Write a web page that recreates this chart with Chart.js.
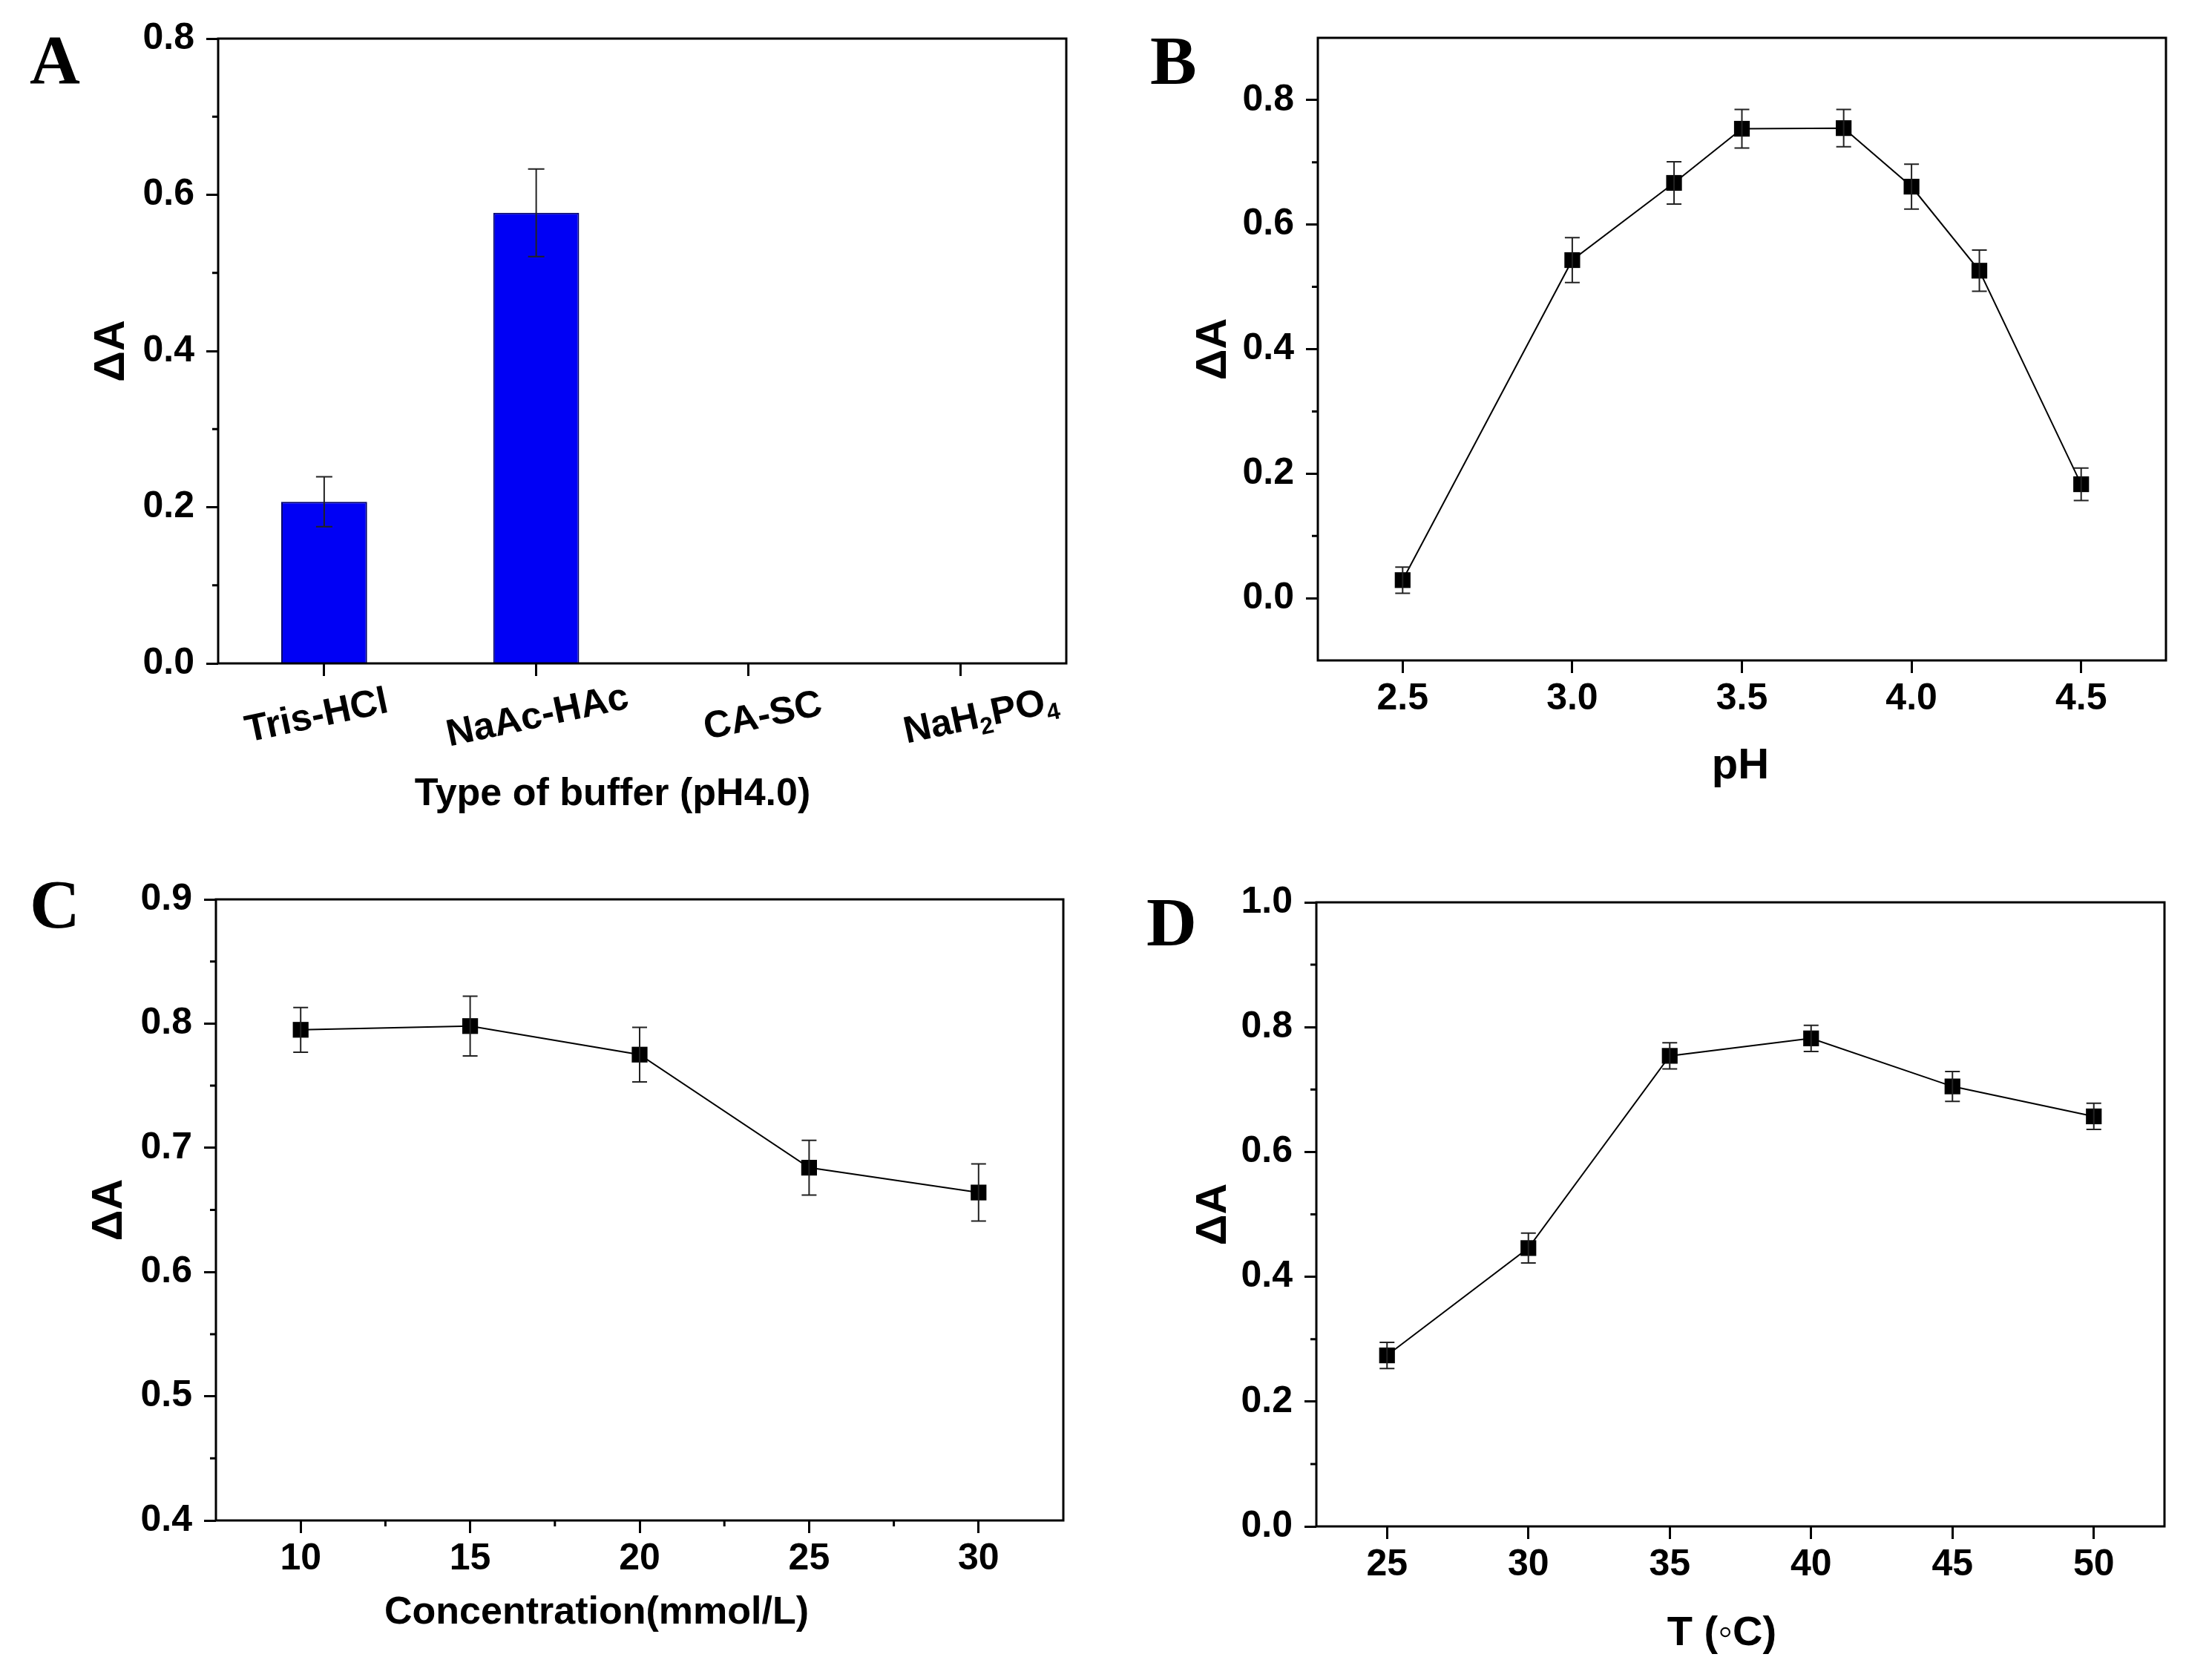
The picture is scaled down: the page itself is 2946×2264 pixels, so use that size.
<!DOCTYPE html>
<html>
<head>
<meta charset="utf-8">
<script src="https://cdn.jsdelivr.net/npm/chart.js@4.4.1/dist/chart.umd.min.js"></script>
<style>
  html, body { margin: 0; padding: 0; background: #fff; }
  #wrap { position: relative; width: 2946px; height: 2264px; }
  .panel { position: absolute; width: 1473px; height: 1132px; }
  .panel canvas { display: block; }
</style>
</head>
<body>
<div id="wrap">
  <div class="panel" style="left:0;top:0"><canvas id="cA" width="1473" height="1132"></canvas></div>
  <div class="panel" style="left:1473px;top:0"><canvas id="cB" width="1473" height="1132"></canvas></div>
  <div class="panel" style="left:0;top:1132px"><canvas id="cC" width="1473" height="1132"></canvas></div>
  <div class="panel" style="left:1473px;top:1132px"><canvas id="cD" width="1473" height="1132"></canvas></div>
</div>
<script>
// A — type of buffer
const bufferLabels = ['Tris-HCl', 'NaAc-HAc', 'CA-SC', 'NaH2PO4'];
const bufferValues = [0.207, 0.577, 0, 0];
const bufferErrors = [0.032, 0.056, 0, 0];
const bufferYTicks = [0, 0.2, 0.4, 0.6, 0.8];

// B — pH
const phValues = [2.5, 3.0, 3.3, 3.5, 3.8, 4.0, 4.2, 4.5];
const phDeltaA = [0.029, 0.543, 0.667, 0.754, 0.755, 0.661, 0.526, 0.183];
const phErrors = [0.021, 0.036, 0.034, 0.031, 0.030, 0.036, 0.033, 0.026];
const phXTicks = [2.5, 3.0, 3.5, 4.0, 4.5];
const phYTicks = [0, 0.2, 0.4, 0.6, 0.8];

// C — concentration
const concValues = [10, 15, 20, 25, 30];
const concDeltaA = [0.795, 0.798, 0.775, 0.684, 0.664];
const concErrors = [0.018, 0.024, 0.022, 0.022, 0.023];
const concXTicks = [10, 15, 20, 25, 30];
const concYTicks = [0.4, 0.5, 0.6, 0.7, 0.8, 0.9];

// D — temperature
const tempValues = [25, 30, 35, 40, 45, 50];
const tempDeltaA = [0.274, 0.446, 0.754, 0.782, 0.705, 0.657];
const tempErrors = [0.021, 0.024, 0.021, 0.021, 0.024, 0.021];
const tempXTicks = [25, 30, 35, 40, 45, 50];
const tempYTicks = [0, 0.2, 0.4, 0.6, 0.8, 1.0];

const SANS = '"Liberation Sans", Arial, sans-serif';
const SERIF = '"Liberation Serif", "Times New Roman", serif';
const FONT = { family: SANS, size: 50, weight: 'bold' };
const YTITLE_FONT = { family: SANS, size: 58, weight: 'bold' };

// box round the plot area
const frame = {
  id: 'frame',
  afterDraw(chart) {
    const { ctx, chartArea: a } = chart;
    ctx.save();
    ctx.strokeStyle = '#000';
    ctx.lineWidth = 3;
    ctx.strokeRect(a.left, a.top, a.right - a.left, a.bottom - a.top);
    ctx.restore();
  },
};

const minorTicks = {
  id: 'minorTicks',
  afterDraw(chart, args, opts) {
    const { ctx, chartArea: a, scales } = chart;
    ctx.save();
    ctx.strokeStyle = '#000';
    ctx.lineWidth = 3;
    ctx.beginPath();
    (opts.y || []).forEach(v => {
      const p = scales.y.getPixelForValue(v);
      ctx.moveTo(a.left - 8, p);
      ctx.lineTo(a.left, p);
    });
    (opts.x || []).forEach(v => {
      const p = scales.x.getPixelForValue(v);
      ctx.moveTo(p, a.bottom);
      ctx.lineTo(p, a.bottom + 8);
    });
    ctx.stroke();
    ctx.restore();
  },
};

const errorBars = {
  id: 'errorBars',
  afterDatasetsDraw(chart, args, opts) {
    const { ctx, scales } = chart;
    chart.data.datasets.forEach((ds, i) => {
      if (!ds.errors) return;
      const meta = chart.getDatasetMeta(i);
      ctx.save();
      ctx.strokeStyle = opts.color || '#000';
      ctx.lineWidth = opts.width || 2;
      meta.data.forEach((el, j) => {
        const err = ds.errors[j];
        if (!err) return;
        const v = ds.data[j].y ?? ds.data[j];
        const top = scales.y.getPixelForValue(v + err);
        const bot = scales.y.getPixelForValue(v - err);
        const cap = opts.cap || 10;
        ctx.beginPath();
        ctx.moveTo(el.x, top); ctx.lineTo(el.x, bot);
        ctx.moveTo(el.x - cap, top); ctx.lineTo(el.x + cap, top);
        ctx.moveTo(el.x - cap, bot); ctx.lineTo(el.x + cap, bot);
        ctx.stroke();
      });
      ctx.restore();
    });
  },
};

// panel letter + x axis title (title sits a bit off-centre in the original)
const panelText = {
  id: 'panelText',
  afterDraw(chart, args, o) {
    const { ctx, chartArea: a } = chart;
    ctx.save();
    ctx.fillStyle = '#000';
    ctx.font = `bold 94px ${SERIF}`;
    ctx.textAlign = 'left';
    ctx.textBaseline = 'alphabetic';
    ctx.fillText(o.letter, o.letterX, o.letterY);
    ctx.font = `bold ${o.xTitleSize || 52}px ${SANS}`;
    ctx.textAlign = 'center';
    ctx.textBaseline = 'middle';
    ctx.fillText(o.xTitle, (a.left + a.right) / 2 + o.xTitleDx, o.xTitleY);
    ctx.restore();
  },
};

// digits after letters become subscripts (NaH2PO4)
function drawChem(ctx, text, size) {
  const parts = text.split(/(\d)/);
  const big = `bold ${size}px ${SANS}`;
  const small = `bold ${Math.round(size * 0.62)}px ${SANS}`;
  let total = 0;
  parts.forEach((p, k) => { ctx.font = k % 2 ? small : big; total += ctx.measureText(p).width; });
  let x = -total / 2;
  parts.forEach((p, k) => {
    ctx.font = k % 2 ? small : big;
    ctx.fillText(p, x, k % 2 ? size * 0.3 : 0);
    x += ctx.measureText(p).width;
  });
}

const slantedLabels = {
  id: 'slantedLabels',
  afterDraw(chart, args, o) {
    const { ctx, chartArea: a, scales } = chart;
    ctx.save();
    ctx.fillStyle = '#000';
    ctx.textAlign = 'left';
    ctx.textBaseline = 'middle';
    chart.data.labels.forEach((lab, i) => {
      ctx.save();
      ctx.translate(scales.x.getPixelForTick(i) + o.dx[i], a.bottom + o.dy);
      ctx.rotate(-o.angle * Math.PI / 180);
      drawChem(ctx, lab, 51);
      ctx.restore();
    });
    ctx.restore();
  },
};

function yAxis(min, max, ticks, width, titlePad) {
  return {
    min, max,
    afterBuildTicks: s => { s.ticks = ticks.map(v => ({ value: v })); },
    afterFit: s => { s.width = width; },
    border: { display: false },
    grid: { drawOnChartArea: false, tickLength: 16, tickWidth: 3, tickColor: '#000' },
    ticks: { color: '#000', padding: 16, font: FONT, callback: v => v.toFixed(1) },
    title: { display: true, text: 'ΔA', color: '#000', font: YTITLE_FONT, padding: { top: titlePad, bottom: 0 } },
  };
}

function xLinear(min, max, ticks, height, fmt) {
  return {
    type: 'linear',
    min, max,
    afterBuildTicks: s => { s.ticks = ticks.map(v => ({ value: v })); },
    afterFit: s => { s.height = height; },
    border: { display: false },
    grid: { drawOnChartArea: false, tickLength: 17, tickWidth: 3, tickColor: '#000' },
    ticks: { color: '#000', padding: 5, font: FONT, maxRotation: 0, callback: fmt },
  };
}

function lineDataset(xs, ys, errs) {
  return {
    data: xs.map((x, i) => ({ x, y: ys[i] })),
    errors: errs,
    borderColor: '#000',
    borderWidth: 2,
    pointStyle: 'rect',
    pointRadius: 15,
    pointBackgroundColor: '#000',
    pointBorderWidth: 0,
    tension: 0,
  };
}

const basePlugins = { legend: { display: false }, tooltip: { enabled: false } };
const errOpts = { color: '#222', width: 2, cap: 10 };

// A
new Chart(document.getElementById('cA'), {
  type: 'bar',
  data: {
    labels: bufferLabels,
    datasets: [{
      data: bufferValues,
      errors: bufferErrors,
      backgroundColor: '#0000f5',
      borderColor: '#00006e',
      borderWidth: 2,
      barPercentage: 0.405,
      categoryPercentage: 1,
    }],
  },
  options: {
    responsive: false,
    animation: false,
    layout: { padding: { top: 52, right: 36, left: 0, bottom: 0 } },
    plugins: {
      ...basePlugins,
      errorBars: { ...errOpts, cap: 11 },
      minorTicks: { y: [0.1, 0.3, 0.5, 0.7] },
      panelText: { letter: 'A', letterX: 40, letterY: 112, xTitle: 'Type of buffer (pH4.0)', xTitleDx: -40, xTitleY: 1071 },
      slantedLabels: { angle: 12, dy: 72, dx: [-10, 2, 20, 28] },
    },
    scales: {
      x: {
        afterFit: s => { s.height = 238; },
        border: { display: false },
        grid: { offset: false, drawOnChartArea: false, tickLength: 17, tickWidth: 3, tickColor: '#000' },
        ticks: { display: false },
      },
      y: yAxis(0, 0.8, bufferYTicks, 294, 116),
    },
  },
  plugins: [frame, minorTicks, errorBars, panelText, slantedLabels],
});

// B
new Chart(document.getElementById('cB'), {
  type: 'line',
  data: { datasets: [lineDataset(phValues, phDeltaA, phErrors)] },
  options: {
    responsive: false,
    animation: false,
    layout: { padding: { top: 51, right: 27, left: 0, bottom: 0 } },
    plugins: {
      ...basePlugins,
      errorBars: errOpts,
      minorTicks: { y: [0.1, 0.3, 0.5, 0.7] },
      panelText: { letter: 'B', letterX: 77, letterY: 113, xTitle: 'pH', xTitleSize: 58, xTitleDx: -2, xTitleY: 1033 },
    },
    scales: {
      x: xLinear(2.25, 4.75, phXTicks, 242, v => v.toFixed(1)),
      y: yAxis(-0.1, 0.9, phYTicks, 303, 128),
    },
  },
  plugins: [frame, minorTicks, errorBars, panelText],
});

// C
new Chart(document.getElementById('cC'), {
  type: 'line',
  data: { datasets: [lineDataset(concValues, concDeltaA, concErrors)] },
  options: {
    responsive: false,
    animation: false,
    layout: { padding: { top: 80, right: 40, left: 0, bottom: 0 } },
    plugins: {
      ...basePlugins,
      errorBars: errOpts,
      minorTicks: { y: [0.45, 0.55, 0.65, 0.75, 0.85], x: [12.5, 17.5, 22.5, 27.5] },
      panelText: { letter: 'C', letterX: 40, letterY: 118, xTitle: 'Concentration(mmol/L)', xTitleDx: -58, xTitleY: 1042 },
    },
    scales: {
      x: xLinear(7.5, 32.5, concXTicks, 215, v => String(v)),
      y: yAxis(0.4, 0.9, concYTicks, 291, 113),
    },
  },
  plugins: [frame, minorTicks, errorBars, panelText],
});

// D
new Chart(document.getElementById('cD'), {
  type: 'line',
  data: { datasets: [lineDataset(tempValues, tempDeltaA, tempErrors)] },
  options: {
    responsive: false,
    animation: false,
    layout: { padding: { top: 84, right: 29, left: 0, bottom: 0 } },
    plugins: {
      ...basePlugins,
      errorBars: errOpts,
      minorTicks: { y: [0.1, 0.3, 0.5, 0.7, 0.9] },
      panelText: { letter: 'D', letterX: 72, letterY: 142, xTitle: 'T (◦C)', xTitleSize: 56, xTitleDx: -25, xTitleY: 1070 },
    },
    scales: {
      x: xLinear(22.5, 52.5, tempXTicks, 207, v => String(v)),
      y: yAxis(0, 1.0, tempYTicks, 301, 128),
    },
  },
  plugins: [frame, minorTicks, errorBars, panelText],
});
</script>
</body>
</html>
